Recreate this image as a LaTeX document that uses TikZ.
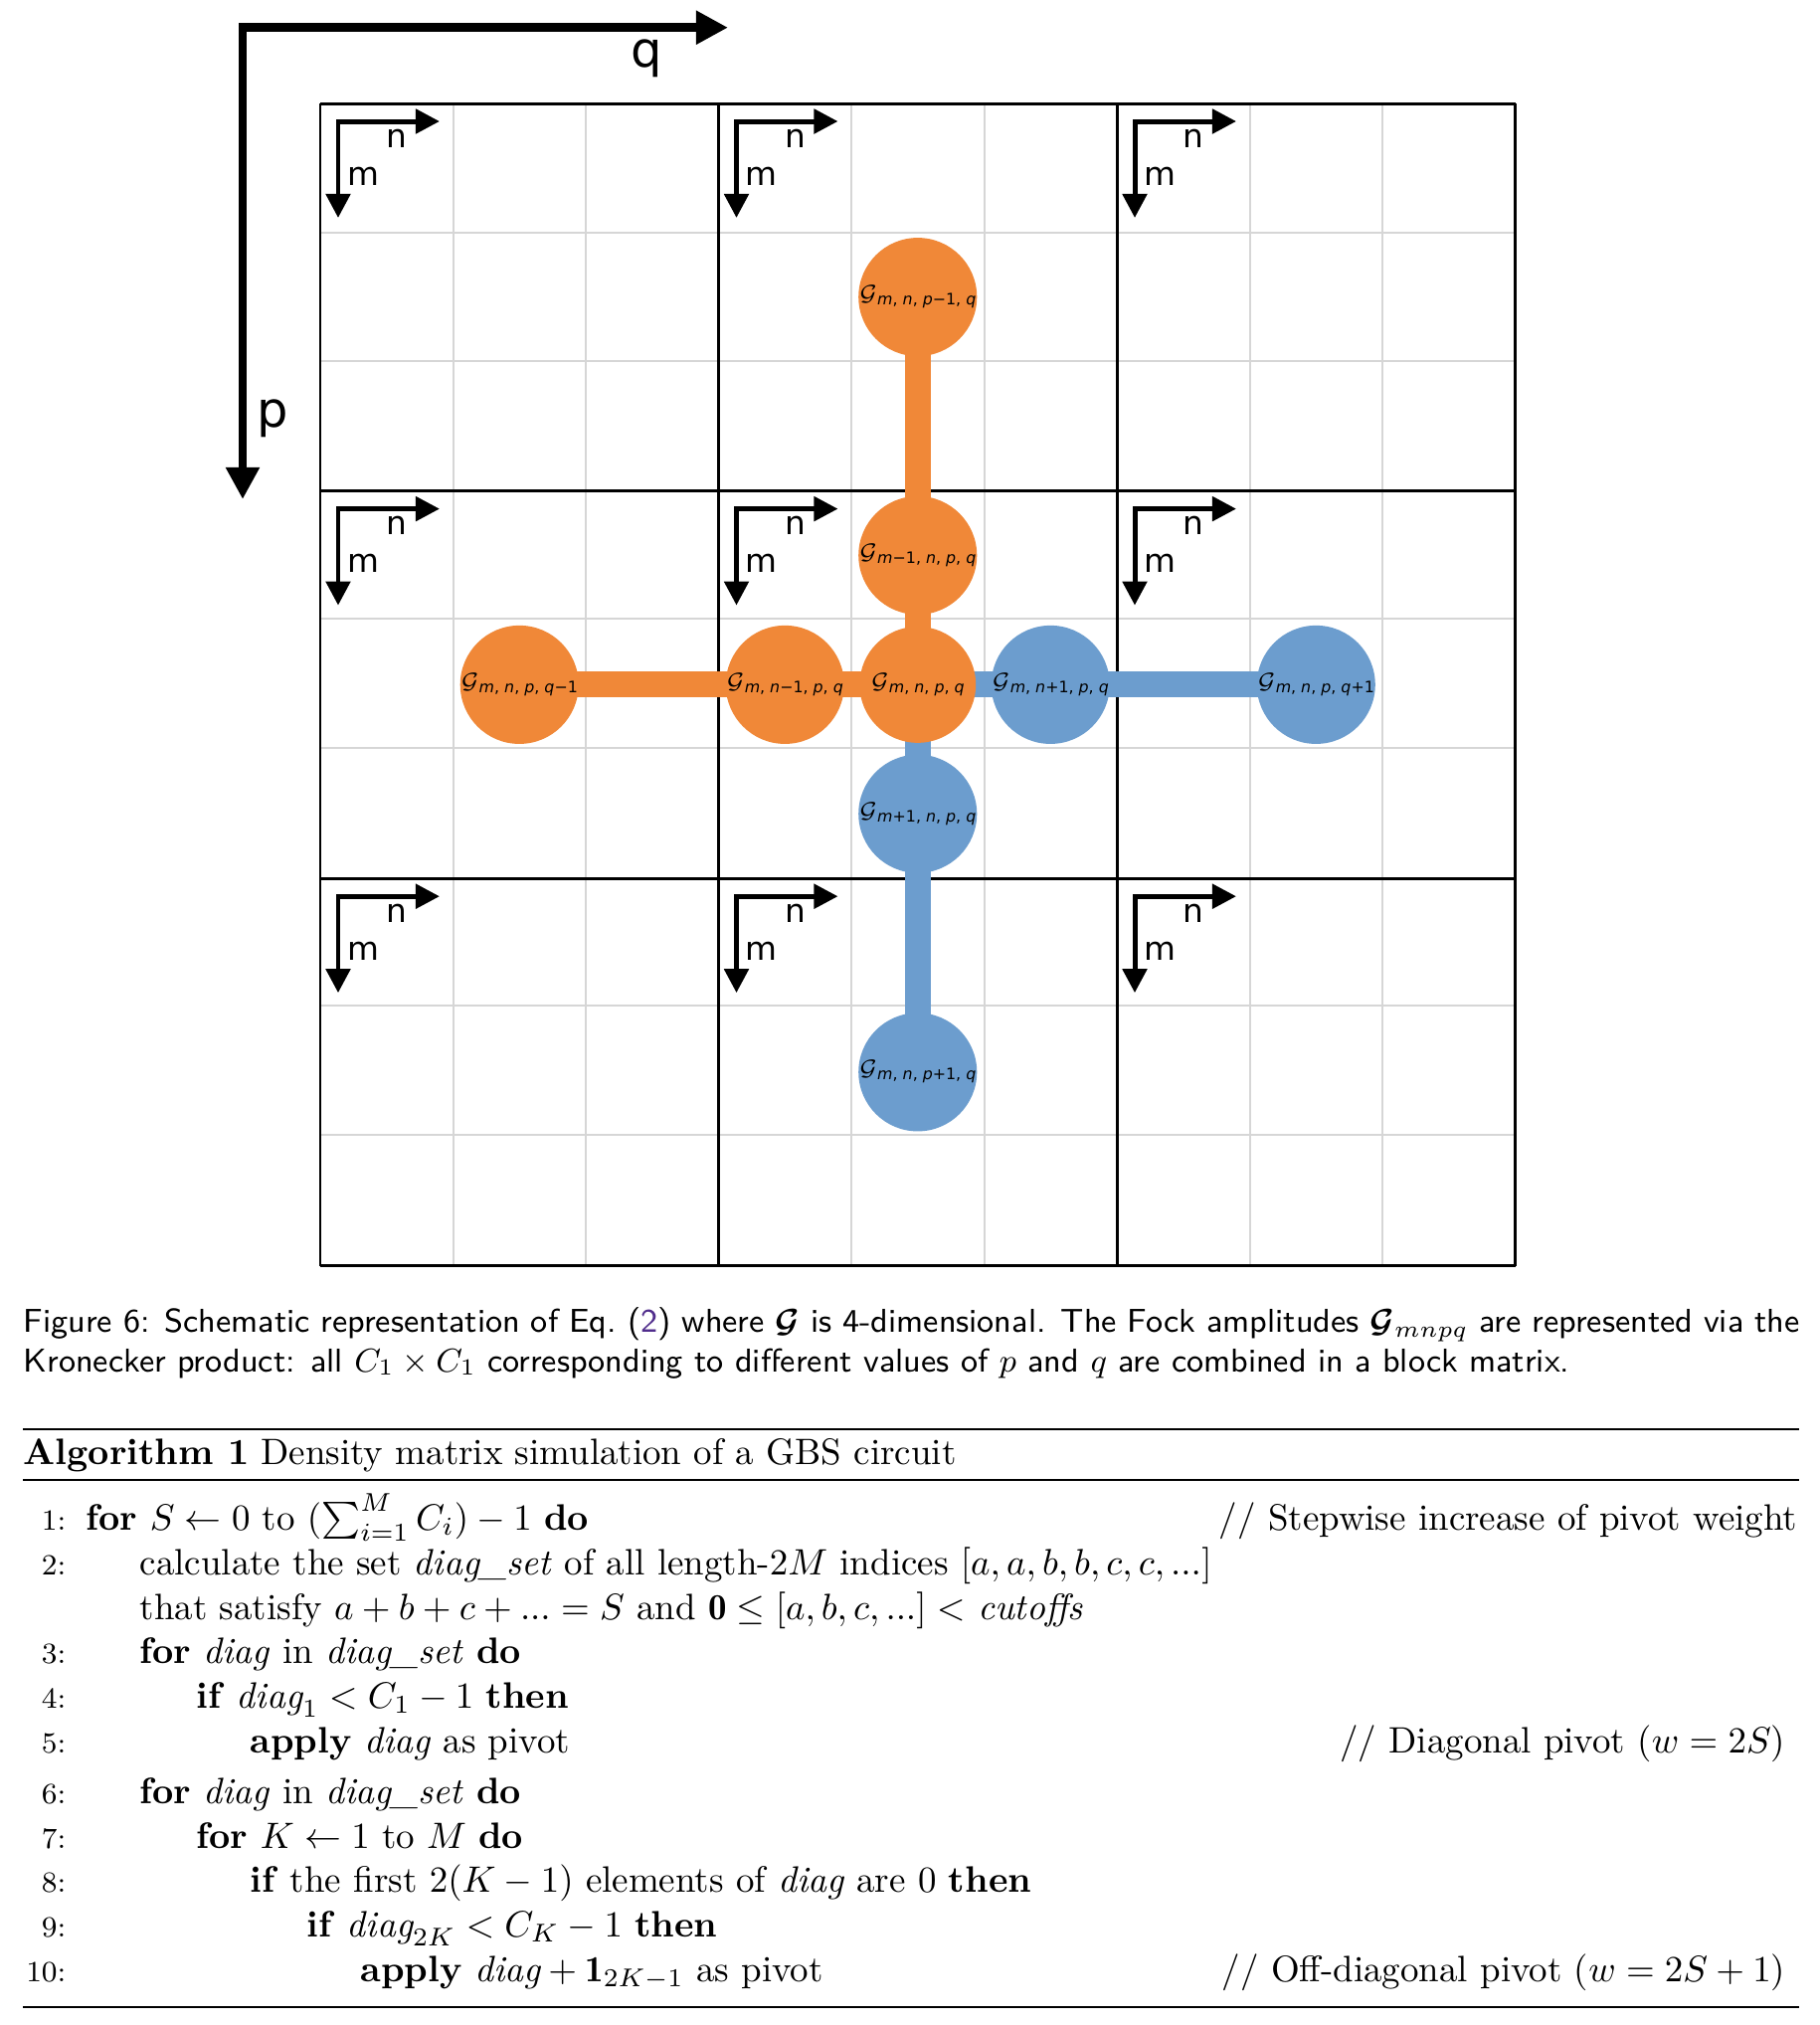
\RequirePackage{fix-cm}
\documentclass[tikz,border=0pt]{standalone}
\usepackage{fontspec}
\usepackage{amsmath,amssymb,bm}
\usetikzlibrary{arrows.meta}
\newfontfamily\dejavu{DejaVu Sans}
\definecolor{gorange}{RGB}{240,136,56}
\definecolor{gblue}{RGB}{108,157,206}
\definecolor{gridgray}{RGB}{214,214,214}
\definecolor{linkpurple}{RGB}{80,45,140}
\pgfdeclarelayer{bg}
\pgfsetlayers{bg,main}
\newcommand{\glab}[1]{{\fontsize{6.2}{7}\selectfont$\mathcal{G}$}\raisebox{-1.1pt}{\fontsize{4.35}{5}\selectfont\dejavu #1}}
\newcommand{\kw}[1]{\textbf{#1}}
\tikzset{
  gridline/.style={draw=gridgray, line width=0.55pt},
  blockline/.style={draw=black, line width=0.82pt},
  bigaxis/.style={line width=2.33pt, line join=miter, {Triangle[length=8.8pt,width=8.8pt]}-{Triangle[length=8.8pt,width=8.8pt]}},
  smallaxis/.style={line width=1.37pt, line join=miter, {Triangle[length=6.6pt,width=6.6pt]}-{Triangle[length=6.6pt,width=6.6pt]}},
  biglab/.style={inner sep=0pt, font=\dejavu\fontsize{13.6}{15}\selectfont},
  axlab/.style={inner sep=0pt, font=\dejavu\fontsize{9}{10}\selectfont},
  gnode/.style={circle, inner sep=0pt, minimum size=32.1pt, draw=none},
  obar/.style={draw=gorange, line width=7.14pt},
  bbar/.style={draw=gblue, line width=7.14pt},
  alg/.style={anchor=base west, inner sep=0pt, font=\fontsize{10.15}{12}\selectfont},
  algc/.style={anchor=base east, inner sep=0pt, font=\fontsize{10.15}{12}\selectfont},
  num/.style={anchor=base east, inner sep=0pt, font=\fontsize{8.1}{10}\selectfont},
  capt/.style={anchor=base west, inner sep=0pt, font=\sffamily\fontsize{9.13}{11}\selectfont},
}
\begin{document}
\begin{tikzpicture}[x=0.2747pt, y=-0.2747pt]
\useasboundingbox (0,0) rectangle (1830,2036);
\begin{pgfonlayer}{bg}
\fill[white] (0,0) rectangle (1830,2036);
% light grid
\foreach \k in {1,2,4,5,7,8} {
  \draw[gridline] (322+133.5*\k,104) -- (322+133.5*\k,1272.8);
  \draw[gridline] (322,104+129.6*\k) -- (1523.5,104+129.6*\k);
}
% block lines
\foreach \k in {0,1,2,3} {
  \draw[blockline] (322+400.5*\k,104) -- (322+400.5*\k,1272.8);
  \draw[blockline] (322,104+389.6*\k) -- (1523.5,104+389.6*\k);
}
\end{pgfonlayer}

% big axes
\coordinate (ptip) at (244,502);
\coordinate (corner) at (244,27.7);
\coordinate (qtip) at (732,27.7);
\draw[bigaxis] (ptip) -- (corner) -- (qtip);
\node[biglab] (qlab) at (650.5,58.5) {q};
\node[biglab] (plab) at (274,421) {p};

% small axes in each block
\foreach \i in {0,1,2} {
  \foreach \j in {0,1,2} {
    \pgfmathsetmacro\bx{322+400.5*\i}
    \pgfmathsetmacro\by{104+389.6*\j}
    \coordinate (mt\i\j) at (\bx+18,\by+115);
    \coordinate (c\i\j) at (\bx+18,\by+18);
    \coordinate (nt\i\j) at (\bx+120,\by+18);
    \draw[smallaxis] (mt\i\j) -- (c\i\j) -- (nt\i\j);
    \node[axlab] (n\i\j) at (\bx+77,\by+35) {n};
    \node[axlab] (m\i\j) at (\bx+43,\by+73) {m};
  }
}

% amplitude nodes
\node[gnode, fill=gorange] (gpm) at (922.75,298.6) {\glab{\textit{m}, \textit{n}, \textit{p}−1, \textit{q}}};
\node[gnode, fill=gorange] (gmm) at (922.75,558.4) {\glab{\textit{m}−1, \textit{n}, \textit{p}, \textit{q}}};
\node[gnode, fill=gorange] (gc)  at (922.75,688.4) {\glab{\textit{m}, \textit{n}, \textit{p}, \textit{q}}};
\node[gnode, fill=gorange] (gnm) at (789.25,688.4) {\glab{\textit{m}, \textit{n}−1, \textit{p}, \textit{q}}};
\node[gnode, fill=gorange] (gqm) at (522.25,688.4) {\glab{\textit{m}, \textit{n}, \textit{p}, \textit{q}−1}};
\node[gnode, fill=gblue]   (gnp) at (1056.25,688.4) {\glab{\textit{m}, \textit{n}+1, \textit{p}, \textit{q}}};
\node[gnode, fill=gblue]   (gqp) at (1323.25,688.4) {\glab{\textit{m}, \textit{n}, \textit{p}, \textit{q}+1}};
\node[gnode, fill=gblue]   (gmp) at (922.75,818.2) {\glab{\textit{m}+1, \textit{n}, \textit{p}, \textit{q}}};
\node[gnode, fill=gblue]   (gpp) at (922.75,1077.9) {\glab{\textit{m}, \textit{n}, \textit{p}+1, \textit{q}}};

\begin{pgfonlayer}{bg}
\draw[obar] (gpm.center) -- (gmm.center);
\draw[obar] (gmm.center) -- (gc.center);
\draw[obar] (gqm.center) -- (gnm.center);
\draw[obar] (gnm.center) -- (gc.center);
\draw[bbar] (gc.center) -- (gnp.center);
\draw[bbar] (gnp.center) -- (gqp.center);
\draw[bbar] (gc.center) -- (gmp.center);
\draw[bbar] (gmp.center) -- (gpp.center);
\end{pgfonlayer}

% caption
\node[capt] (cap1) at (23,1339) {\hbox to 490.6pt{Figure 6: Schematic representation of Eq.~(\textcolor{linkpurple}{2}) where $\bm{\mathcal{G}}$ is 4-dimensional. The Fock amplitudes $\bm{\mathcal{G}}_{mnpq}$ are represented via the}};
\node[capt] (cap2) at (23,1379) {Kronecker product: all $C_1 \times C_1$ corresponding to different values of $p$ and $q$ are combined in a block matrix.};

% algorithm
\draw[line width=0.8pt] (23,1437) -- (1809,1437);
\node[alg] (ahead) at (23,1472) {\textbf{Algorithm 1} Density matrix simulation of a GBS circuit};
\draw[line width=0.5pt] (23,1488) -- (1809,1488);

\node[num] (l1) at (67,1538) {1:};
\node[alg] (a1) at (86,1538) {\kw{for} $S \gets 0$ to $(\sum_{i=1}^{M} C_i) - 1$ \kw{do}};
\node[algc] (k1) at (1808,1538) {// Stepwise increase of pivot weight};
\node[num] (l2) at (67,1583) {2:};
\node[alg] (a2) at (140,1583) {calculate the set \textit{diag\_set} of all length-$2M$ indices $[a, a, b, b, c, c, ...]$};
\node[alg] (a2b) at (140,1628) {that satisfy $a+b+c+...=S$ and $\mathbf{0} \leq [a, b, c, ...] <$ \textit{cutoffs}};
\node[num] (l3) at (67,1672) {3:};
\node[alg] (a3) at (140,1672) {\kw{for} \textit{diag} in \textit{diag\_set} \kw{do}};
\node[num] (l4) at (67,1717) {4:};
\node[alg] (a4) at (197,1717) {\kw{if} $\mathit{diag}_1 < C_1 - 1$ \kw{then}};
\node[num] (l5) at (67,1762) {5:};
\node[alg] (a5) at (251,1762) {\kw{apply} \textit{diag} as pivot};
\node[algc] (k5) at (1796,1762) {// Diagonal pivot ($w = 2S$)};
\node[num] (l6) at (67,1813) {6:};
\node[alg] (a6) at (140,1813) {\kw{for} \textit{diag} in \textit{diag\_set} \kw{do}};
\node[num] (l7) at (67,1858) {7:};
\node[alg] (a7) at (197,1858) {\kw{for} $K \gets 1$ to $M$ \kw{do}};
\node[num] (l8) at (67,1902) {8:};
\node[alg] (a8) at (251,1902) {\kw{if} the first $2(K-1)$ elements of \textit{diag} are 0 \kw{then}};
\node[num] (l9) at (67,1947) {9:};
\node[alg] (a9) at (308,1947) {\kw{if} $\mathit{diag}_{2K} < C_K - 1$ \kw{then}};
\node[num] (l10) at (67,1992) {10:};
\node[alg] (a10) at (362,1992) {\kw{apply} $\mathit{diag} + \mathbf{1}_{2K-1}$ as pivot};
\node[algc] (k10) at (1796,1992) {// Off-diagonal pivot ($w = 2S + 1$)};
\draw[line width=0.8pt] (23,2018) -- (1809,2018);
\end{tikzpicture}
\end{document}
